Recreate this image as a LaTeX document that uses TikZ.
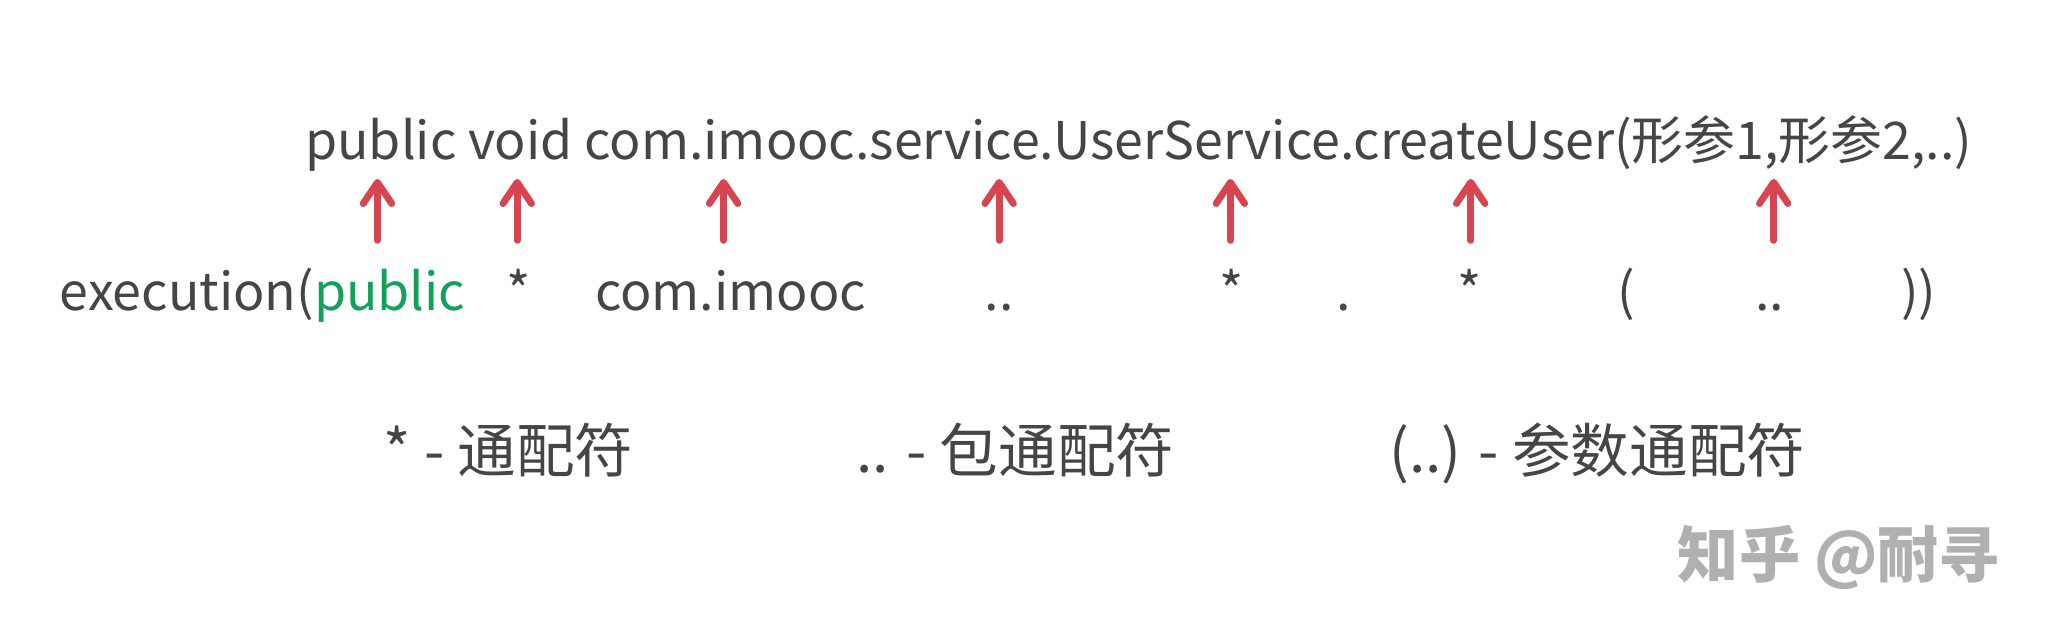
\documentclass[tikz,border=0pt]{standalone}
\usepackage{fontspec}
\setmainfont{Noto Sans CJK SC}
\usetikzlibrary{arrows.meta}
\definecolor{txt}{HTML}{454545}
\definecolor{grn}{HTML}{13A05A}
\definecolor{arr}{HTML}{D64550}
\definecolor{wm}{HTML}{B0B0B0}
\tikzset{
  code/.style={inner sep=0pt, text=txt, font=\fontsize{11.3}{14}\selectfont},
  legend/.style={inner sep=0pt, text=txt, font=\fontsize{12.75}{16}\selectfont},
  uparrow/.style={draw=arr, line width=1.5pt, line cap=round,
    -{Straight Barb[length=4.6pt,width=6.2pt,line width=1.5pt,round]}},
  wmark/.style={inner sep=0pt, text=wm, font=\fontsize{13.3}{16}\selectfont\bfseries}
}
\begin{document}
\begin{tikzpicture}[x=0.01cm,y=-0.01cm]
\useasboundingbox[fill=white] (0,0) rectangle (1568,490);
% top line
\node[code, anchor=base west] (sig) at (233,122) {public void com.imooc.service.UserService.createUser(形参1,形参2,..)};
% bottom line
\node[code, anchor=base west] (exe) at (45,238) {execution(\textcolor{grn}{public}};
\node[code, anchor=base] (star1) at (397,238) {*};
\node[code, anchor=base west] (pkg) at (455,238) {com.imooc};
\node[code, anchor=base] (dots1) at (765,238) {..};
\node[code, anchor=base] (star2) at (943,238) {*};
\node[code, anchor=base] (dot) at (1029,238) {.};
\node[code, anchor=base] (star3) at (1125,238) {*};
\node[code, anchor=base] (lpar) at (1245,238) {(};
\node[code, anchor=base] (dots2) at (1355,238) {..};
\node[code, anchor=base] (rpar) at (1469,238) {))};
% arrows
\foreach \n/\x in {a/289,b/396,c/554,d/765,e/942,f/1126,g/1358}{
  \coordinate (\n0) at (\x,184);
  \coordinate (\n1) at (\x,137);
  \draw[uparrow] (\n0) -- (\n1);
}
% legend
\node[legend, anchor=base west] (l1) at (293,362) {* - 通配符};
\node[legend, anchor=base west] (l2) at (655,362) {.. - 包通配符};
\node[legend, anchor=base west] (l3) at (1063,362) {(..) - 参数通配符};
% watermark
\node[wmark, anchor=base west] (wmk) at (1284,442) {知乎 @耐寻};
\end{tikzpicture}
\end{document}
